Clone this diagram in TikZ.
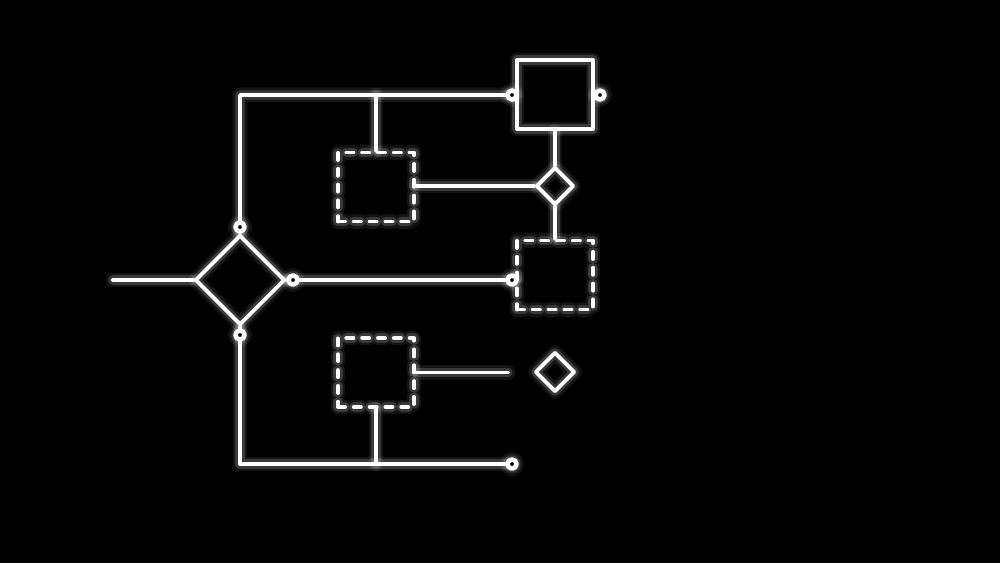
\documentclass[tikz,border=0pt]{standalone}
\usetikzlibrary{shapes.geometric}
\tikzset{
  halo/.style={preaction={draw=white,opacity=.08,line width=4.2pt},
    preaction={draw=white,opacity=.16,line width=2.6pt}},
  wire/.style={draw=white,line width=1.1pt,halo},
  solidbox/.style={rectangle,wire,minimum width=.76cm,minimum height=.69cm,inner sep=0pt},
  dashbox/.style={solidbox,dash pattern=on 2pt off 2.5pt},
  gate/.style={diamond,wire,inner sep=0pt,minimum width=#1,minimum height=#1},
  port/.style={circle,draw=white,fill=black,line width=1.3pt,minimum size=.09cm,inner sep=0pt,halo}
}
\begin{document}
\begin{tikzpicture}[line join=round,line cap=round,x=.01cm,y=-.01cm]
  %Nen den
  \fill[black] (0,0) rectangle (1000,563);
  %Cac khoi
  \node[gate=.9cm] (dec) at (240,280) {};
  \node[gate=.38cm] (sel) at (555,186) {};
  \node[gate=.4cm] (spare) at (555,372) {};
  \node[solidbox] (top) at (555,94.5) {};
  \node[dashbox] (ds1) at (376,187) {};
  \node[dashbox] (ds2) at (555,275) {};
  \node[dashbox] (ds3) at (376,372.5) {};
  %Cac diem noi
  \coordinate (in) at (113,280);
  \coordinate (stub) at (508,372.5);
  \foreach \n/\x/\y in {pa/240/227,pb/293/280,pc/240/335,pd/512/95,pe/600/95,pf/512/280,pg/512/464}
    \coordinate (\n) at (\x,\y);
  %Cac duong noi
  \draw[wire] (in) -- (dec.west);
  \draw[wire] (dec.north) -- (pa) |- (pd) -- (top.west);
  \draw[wire] (top.east) -- (pe);
  \draw[wire] (ds1.north) -- (ds1.north |- pd);
  \draw[wire] (ds1.east |- sel) -- (sel.west);
  \draw[wire] (top.south) -- (sel.north) (sel.south) -- (ds2.north);
  \draw[wire] (dec.east) -- (pb) -- (pf) -- (pf -| ds2.west);
  \draw[wire] (dec.south) -- (pc) |- (pg);
  \draw[wire] (ds3.south) -- (ds3.south |- pg);
  \draw[wire] (ds3.east) -- (stub);
  %Ve cac cong tron
  \foreach \n in {pa,pb,pc,pd,pe,pf,pg} \node[port] at (\n) {};
\end{tikzpicture}
\end{document}
